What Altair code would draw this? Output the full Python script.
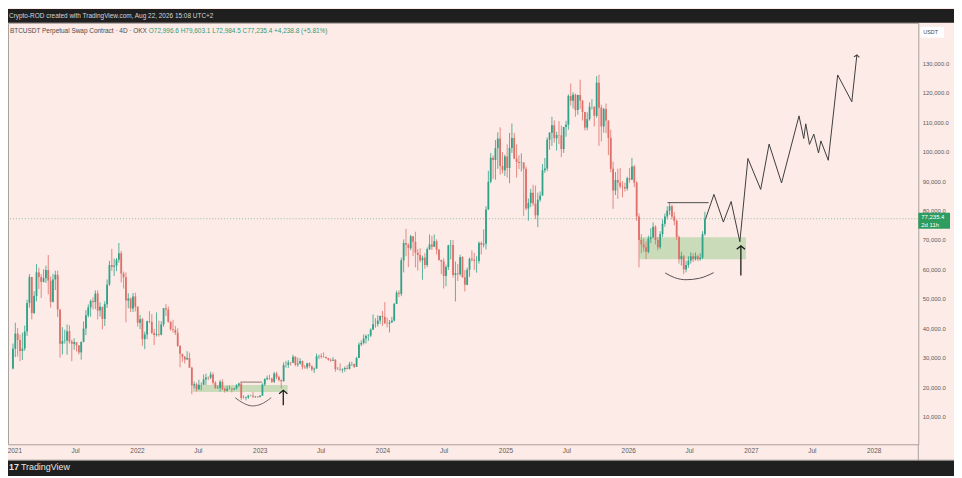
import altair as alt
import numpy as np
import pandas as pd

W, H = 918, 425
RP = 36  # right padding (price axis strip)
BG = "#fdebe7"
UP, DOWN = "#2fa287", "#df6f69"
FONT = "Liberation Sans"
AXC = "#5b5b5b"

# ---------------- weekly candles (values in thousands USDT) ----------------
first_open_k = 26.3
close_k = [33.0,
    38.2, 36.0, 32.3, 33.1, 38.9, 48.6, 57.4, 45.2, 51.0, 59.0, 57.4, 55.8, 57.0, 59.8, 56.2, 49.0, 56.6, 58.2, 46.4, 34.7, 35.7, 35.8, 39.0, 35.5, 34.7, 35.3,
    34.2, 31.8, 35.4, 39.9, 44.4, 47.1, 49.3, 48.9, 51.8, 46.0, 47.3, 43.2, 48.2, 54.9, 61.5, 60.9, 61.3, 63.3, 65.5, 58.6, 57.3, 49.4, 50.1, 46.7, 50.8, 47.3,
    41.9, 43.1, 36.3, 37.9, 42.4, 42.2, 38.4, 37.7, 38.0, 37.8, 41.3, 46.8, 46.4, 42.2, 39.7, 39.4, 38.5, 34.0, 31.3, 30.3, 29.4, 29.9, 26.6, 20.6, 21.0, 19.3,
    20.8, 20.8, 22.6, 23.3, 23.2, 24.3, 21.5, 19.6, 19.8, 21.8, 19.4, 18.8, 19.4, 19.4, 19.2, 19.6, 20.6, 21.2, 16.3, 16.3, 16.5, 17.1, 17.1, 16.7, 16.8, 16.6,
    17.1, 20.9, 22.7, 23.1, 22.9, 21.8, 24.6, 23.4, 22.4, 22.0, 27.5, 27.5, 28.4, 28.3, 30.3, 27.6, 28.0, 28.9, 26.9, 26.7, 28.1, 27.1, 26.0, 26.3, 30.5, 30.6,
    30.3, 30.2, 29.9, 29.3, 29.0, 29.3, 26.1, 26.1, 25.9, 26.1, 26.5, 26.2, 27.9, 27.9, 26.9, 29.9, 34.5, 35.0, 36.5, 37.4, 37.5, 39.5, 41.4, 41.4, 42.6, 44.2,
    43.9, 41.7, 41.6, 42.0, 42.6, 48.3, 52.1, 51.7, 63.1, 69.0, 68.4, 67.2, 71.3, 69.4, 65.7, 64.9, 63.1, 64.0, 61.5, 66.9, 68.5, 67.7, 69.6, 66.7, 63.2, 62.7,
    57.8, 60.8, 68.2, 68.3, 58.1, 58.7, 58.4, 64.2, 57.3, 54.8, 59.9, 63.6, 63.3, 62.9, 62.9, 69.0, 68.4, 68.7, 80.4, 89.8, 98.0, 97.2, 101.2, 104.5, 95.2, 93.7, 98.4,
    94.5, 101.3, 104.7, 97.7, 96.5, 96.2, 96.3, 94.2, 80.7, 82.6, 86.1, 82.4, 78.4, 83.7, 85.1, 93.7, 94.3, 104.1, 106.5, 109.0, 104.6, 105.7, 105.6, 100.9, 108.4, 109.2,
    119.0, 117.3, 119.4, 114.2, 119.3, 117.4, 113.5, 108.2, 111.1, 115.3, 115.3, 112.2, 123.5, 115.0, 108.6, 114.5, 110.6, 104.7, 94.2, 86.8, 90.4, 89.5, 88.2, 88.0, 87.5, 91.0,
    90.5, 95.0, 89.5, 78.0, 70.0, 68.5, 67.5, 66.0, 70.5, 71.0, 74.5, 70.0, 67.5, 72.0, 75.5, 78.0, 80.0, 81.5, 78.0, 76.5, 71.0, 63.5, 64.5, 60.0, 61.5, 63.0,
    64.5, 63.5, 64.5, 63.5, 64.0, 72.0, 77.2]
high_k = [34.8,
    41.9, 40.1, 37.8, 38.5, 40.9, 49.7, 58.4, 57.5, 52.6, 61.8, 60.6, 58.4, 60.0, 61.3, 64.9, 57.6, 58.5, 59.6, 59.6, 46.4, 40.4, 39.5, 41.3, 41.0, 36.1, 36.6,
    35.1, 34.0, 35.4, 42.3, 46.2, 48.1, 49.8, 50.5, 52.9, 52.9, 48.8, 47.3, 49.2, 56.6, 62.9, 67.0, 63.7, 63.9, 69.0, 66.3, 59.3, 59.0, 51.9, 50.5, 52.0, 52.1,
    47.5, 44.5, 43.5, 38.9, 42.6, 45.8, 44.8, 39.8, 45.4, 42.6, 42.4, 46.9, 48.2, 47.4, 42.4, 42.9, 40.8, 40.0, 34.3, 31.0, 30.6, 32.2, 31.7, 26.9, 21.9, 21.5,
    22.5, 21.6, 24.3, 24.6, 23.6, 25.2, 25.0, 22.0, 20.6, 22.4, 22.7, 19.9, 20.4, 20.5, 19.9, 19.7, 21.0, 21.5, 21.5, 17.2, 16.8, 17.4, 17.4, 18.4, 17.0, 16.9,
    17.3, 21.3, 23.0, 23.9, 24.2, 23.2, 25.2, 25.2, 23.9, 22.6, 28.4, 28.9, 29.2, 28.6, 31.0, 30.5, 30.0, 29.8, 29.0, 27.5, 28.3, 28.4, 27.4, 26.7, 31.4, 31.0,
    31.5, 31.8, 30.4, 29.6, 29.7, 30.2, 29.5, 26.8, 28.1, 26.4, 27.0, 27.5, 28.6, 28.6, 27.9, 30.3, 35.2, 35.9, 37.9, 37.9, 38.0, 40.0, 44.7, 43.4, 44.4, 44.3,
    45.9, 48.9, 43.6, 42.8, 43.9, 48.6, 52.8, 52.9, 64.0, 70.2, 73.8, 68.9, 71.8, 71.3, 72.8, 66.9, 67.2, 64.7, 65.5, 67.5, 71.9, 71.4, 71.9, 70.2, 67.0, 63.3,
    63.8, 61.6, 68.4, 70.0, 70.0, 62.7, 61.8, 65.0, 64.5, 59.8, 60.6, 64.1, 66.5, 65.6, 64.5, 69.5, 69.5, 73.6, 81.5, 93.5, 99.6, 98.8, 104.0, 106.6, 108.3, 99.9, 99.0,
    102.5, 106.4, 109.6, 106.4, 102.5, 98.8, 99.5, 96.5, 95.0, 84.1, 87.4, 88.8, 88.5, 86.1, 86.5, 95.8, 97.9, 104.9, 106.7, 111.9, 110.7, 106.8, 110.4, 108.9, 108.5, 110.5,
    119.5, 123.2, 120.2, 119.8, 119.4, 124.5, 117.6, 113.6, 113.4, 116.8, 117.9, 115.4, 125.7, 126.2, 116.0, 115.0, 116.4, 110.7, 107.5, 96.6, 93.1, 94.2, 94.5, 90.0, 89.5, 91.5,
    94.5, 97.9, 95.5, 90.0, 79.0, 72.0, 70.5, 69.5, 71.5, 74.0, 76.0, 75.0, 71.0, 73.0, 77.0, 79.0, 81.5, 82.7, 82.0, 79.5, 77.0, 71.5, 66.0, 65.0, 63.0, 64.5,
    65.8, 65.5, 65.8, 65.0, 65.5, 73.0, 79.6]
low_k = [26.0,
    30.2, 30.4, 28.8, 29.2, 32.3, 37.4, 47.0, 43.0, 44.9, 49.2, 53.3, 50.3, 55.6, 55.4, 51.5, 47.0, 48.7, 53.0, 43.8, 30.0, 31.1, 34.8, 31.0, 34.8, 28.8, 32.7,
    32.1, 31.1, 29.3, 35.2, 37.7, 43.7, 43.9, 46.4, 46.5, 43.0, 44.0, 39.6, 40.8, 46.9, 54.4, 59.5, 57.8, 59.4, 62.3, 55.6, 53.5, 42.0, 46.8, 45.5, 45.5, 45.7,
    40.6, 39.7, 34.0, 32.9, 36.3, 41.7, 38.0, 34.3, 37.2, 37.2, 37.6, 40.5, 44.2, 41.9, 39.2, 38.5, 37.7, 33.7, 26.7, 28.6, 28.0, 29.3, 26.5, 17.6, 19.6, 18.6,
    19.0, 18.9, 20.8, 20.7, 22.4, 22.7, 20.8, 19.5, 19.5, 18.5, 19.0, 18.1, 18.5, 19.2, 18.2, 18.9, 19.2, 20.1, 15.6, 16.1, 15.5, 16.0, 16.9, 16.3, 16.3, 16.3,
    16.5, 17.1, 20.4, 22.3, 22.5, 21.4, 21.4, 22.7, 21.9, 19.6, 21.9, 26.6, 26.5, 27.3, 28.2, 27.1, 26.9, 27.7, 26.0, 26.2, 26.1, 26.6, 25.4, 24.8, 26.3, 29.5,
    29.7, 30.0, 29.6, 29.0, 28.6, 28.9, 25.2, 25.8, 25.4, 24.9, 25.2, 26.0, 26.0, 27.2, 26.5, 27.0, 29.9, 33.9, 34.5, 34.8, 35.7, 37.0, 39.9, 40.2, 40.6, 41.5,
    40.8, 41.5, 40.3, 38.6, 41.8, 42.3, 48.2, 50.6, 50.9, 59.0, 64.5, 60.8, 66.5, 64.5, 60.7, 59.6, 62.4, 56.5, 60.2, 60.8, 66.6, 66.6, 67.6, 65.1, 63.0, 58.4,
    53.5, 54.3, 59.8, 63.4, 57.2, 49.1, 56.1, 57.8, 57.2, 52.5, 54.6, 57.5, 62.7, 59.8, 58.9, 62.0, 65.1, 67.5, 66.8, 80.2, 89.3, 90.8, 90.5, 94.2, 92.2, 92.6, 91.8,
    91.2, 89.3, 99.6, 97.5, 91.2, 94.1, 93.3, 78.2, 80.1, 76.6, 81.2, 81.6, 77.1, 74.4, 83.0, 85.1, 92.8, 93.4, 100.7, 102.0, 103.1, 100.4, 102.6, 98.2, 99.6, 105.1,
    107.5, 115.7, 114.7, 111.9, 112.6, 114.5, 110.6, 107.3, 107.3, 110.6, 114.4, 108.6, 111.6, 102.0, 103.5, 106.5, 106.3, 98.9, 93.0, 80.6, 85.3, 84.0, 87.5, 84.5, 86.5, 86.8,
    89.5, 90.5, 88.0, 76.5, 60.7, 65.5, 66.0, 63.5, 65.5, 69.0, 70.5, 68.5, 66.5, 67.0, 71.0, 74.5, 77.0, 78.5, 77.0, 75.0, 70.0, 62.0, 61.3, 58.4, 59.0, 60.5,
    62.0, 62.5, 63.0, 62.8, 63.0, 63.5, 71.5]

# ---------------- projection path ----------------
proj_dates = ["2026-08-19", "2026-09-13", "2026-10-11", "2026-11-03", "2026-11-29", "2026-12-23",
              "2027-01-30", "2027-02-24", "2027-04-02", "2027-05-24", "2027-06-07", "2027-06-13",
              "2027-06-24", "2027-07-07", "2027-07-21", "2027-07-28", "2027-08-19", "2027-09-16",
              "2027-10-28", "2027-11-12"]
proj_k = [77.2, 85.5, 76.1, 83.1, 69.4, 97.7, 87.2, 102.6, 89.4, 112.2, 104.5, 109.5,
          102.5, 106.0, 99.6, 103.7, 97.1, 126.1, 117.0, 132.9]

# ---------------- annotations ----------------
zone_start = ["2022-06-16", "2026-02-03"]
zone_end = ["2023-03-25", "2026-12-17"]
zone_lo_k = [18.3, 63.5]
zone_hi_k = [20.7, 70.9]

res_start = ["2022-11-04", "2026-04-28"]
res_end = ["2023-01-08", "2026-08-28"]
res_k = [21.7, 82.7]
res_colors = ["#8d716b", "#4d4d4d"]

arc1_dates = ["2022-10-20", "2022-11-14", "2022-12-10", "2023-01-05", "2023-02-04"]
arc1_k = [16.4, 14.5, 13.6, 14.2, 16.4]
arc2_dates = ["2026-04-21", "2026-05-19", "2026-06-22", "2026-08-01", "2026-09-12"]
arc2_k = [58.8, 57.2, 56.5, 57.0, 58.9]

arrow_dates = ["2023-03-12", "2026-12-02"]
arrow_lo_k = [13.8, 57.9]
arrow_hi_k = [18.9, 68.0]

last_price = 77235.4
header_text = "Crypto-ROD created with TradingView.com, Aug 22, 2026 15:08 UTC+2"
symbol_text = "BTCUSDT Perpetual Swap Contract · 4D · OKX"
ohlc_text = "O72,996.6  H79,603.1  L72,984.5  C77,235.4  +4,238.8 (+5.81%)"
price_tag = ["77,235.4", "2d 11h"]
y_ticks = [10000, 20000, 30000, 40000, 50000, 60000, 70000, 80000, 90000, 100000, 110000, 120000, 130000]

# ---------------- tables ----------------
n = min(len(close_k), len(high_k), len(low_k))
weeks = pd.date_range("2020-12-28", periods=n, freq="7D")
c = np.array(close_k[:n]) * 1000
o = np.array([first_open_k] + close_k[:n - 1]) * 1000
h = np.maximum.reduce([np.array(high_k[:n]) * 1000, o, c])
l = np.minimum.reduce([np.array(low_k[:n]) * 1000, o, c])
candles = pd.DataFrame({"t": weeks, "o": o, "h": h, "l": l, "c": c})
candles["dir"] = np.where(candles["c"] >= candles["o"], "up", "down")

proj = pd.DataFrame({"d": pd.to_datetime(proj_dates), "p": np.array(proj_k) * 1000, "i": range(len(proj_k))})
proj_end = proj.tail(1)

xs = alt.Scale(domain=[alt.DateTime(year=2020, month=12, date=28), alt.DateTime(year=2028, month=4, date=28)])
ys = alt.Scale(domain=[560, 143820], nice=False, zero=False)

x_vals = [alt.DateTime(year=yy, month=mm, date=1) for yy in range(2021, 2029) for mm in (1, 7) if not (yy == 2028 and mm == 7)]
x_axis = alt.Axis(values=x_vals, labelExpr="month(datum.value) == 0 ? timeFormat(datum.value, '%Y') : 'Jul'",
                  title=None, grid=False, ticks=False, domain=False, labelFlush=False, labelOverlap=False,
                  labelPadding=3, labelFontSize=6.5, labelColor=AXC, labelFont=FONT)
y_axis = alt.Axis(orient="right", values=y_ticks, format=",.1f", title=None, grid=False, ticks=False,
                  domain=False, labelAlign="left", labelBaseline="middle", labelPadding=4,
                  labelFontSize=6, labelColor=AXC, labelFont=FONT)

def X(f):
    return alt.X(f, scale=xs, axis=x_axis, title=None)

def Y(f):
    return alt.Y(f, scale=ys, axis=y_axis, title=None)

one = pd.DataFrame({"a": [0]})
layers = []

# green zones
zones = pd.DataFrame({"s": pd.to_datetime(zone_start), "e": pd.to_datetime(zone_end),
                      "lo": np.array(zone_lo_k) * 1000, "hi": np.array(zone_hi_k) * 1000})
layers.append(alt.Chart(zones).mark_rect(color="#a9d29b", opacity=0.62).encode(
    x=X("s:T"), x2="e:T", y=Y("lo:Q"), y2="hi:Q"))

# last price dotted line
layers.append(alt.Chart(pd.DataFrame({"p": [last_price]})).mark_rule(
    color="#7fa98f", strokeDash=[1, 2], strokeWidth=0.8).encode(y=Y("p:Q")))

# candles
col = alt.Color("dir:N", scale=alt.Scale(domain=["up", "down"], range=[UP, DOWN]), legend=None)
layers.append(alt.Chart(candles).mark_rule(strokeWidth=0.8).encode(
    x=X("t:T"), y=Y("l:Q"), y2="h:Q", color=col))
layers.append(alt.Chart(candles).mark_bar(size=1.8).encode(
    x=X("t:T"), y=Y("o:Q"), y2="c:Q", color=col))

# resistance lines
for s, e, p, cc in zip(res_start, res_end, res_k, res_colors):
    df = pd.DataFrame({"s": [pd.Timestamp(s)], "e": [pd.Timestamp(e)], "p": [p * 1000]})
    layers.append(alt.Chart(df).mark_rule(color=cc, strokeWidth=1).encode(x=X("s:T"), x2="e:T", y=Y("p:Q")))

# arcs
for dts, vals, cc in [(arc1_dates, arc1_k, "#6b6463"), (arc2_dates, arc2_k, "#555050")]:
    df = pd.DataFrame({"d": pd.to_datetime(dts), "p": np.array(vals) * 1000, "i": range(len(vals))})
    layers.append(alt.Chart(df).mark_line(color=cc, strokeWidth=1, interpolate="monotone").encode(
        x=X("d:T"), y=Y("p:Q"), order="i:Q"))

# up arrows
arrows = pd.DataFrame({"d": pd.to_datetime(arrow_dates), "lo": np.array(arrow_lo_k) * 1000,
                       "hi": np.array(arrow_hi_k) * 1000})
layers.append(alt.Chart(arrows).mark_rule(color="#1c1c1c", strokeWidth=1.3).encode(
    x=X("d:T"), y=Y("lo:Q"), y2="hi:Q"))
chevron = "M -1 0.8 L 0 0 L 1 0.8"
layers.append(alt.Chart(arrows).mark_point(shape=chevron, size=70, filled=False, color="#1c1c1c",
                                           strokeWidth=1.3, opacity=1).encode(x=X("d:T"), y=Y("hi:Q")))

# projection path
layers.append(alt.Chart(proj).mark_line(color="#3d3d3d", strokeWidth=1).encode(
    x=X("d:T"), y=Y("p:Q"), order="i:Q"))
layers.append(alt.Chart(proj_end).mark_point(shape=chevron, size=30, angle=6, filled=False, color="#3d3d3d",
                                             strokeWidth=1, opacity=1).encode(x=X("d:T"), y=Y("p:Q")))

# ---------------- chrome: header, footer, labels ----------------
layers.append(alt.Chart(one).mark_rect(color="#1f1f1f").encode(
    x=alt.value(0), x2=alt.value(W + RP + 4), y=alt.value(-14), y2=alt.value(0)))
layers.append(alt.Chart(pd.DataFrame({"t": [header_text]})).mark_text(
    align="left", baseline="middle", fontSize=6.5, font=FONT, color="#d6d6d6").encode(
    x=alt.value(1), y=alt.value(-6.5), text="t:N"))
layers.append(alt.Chart(pd.DataFrame({"t": [symbol_text]})).mark_text(
    align="left", baseline="middle", fontSize=6.5, font=FONT, color="#4a4a4a").encode(
    x=alt.value(2), y=alt.value(8), text="t:N"))
layers.append(alt.Chart(pd.DataFrame({"t": [ohlc_text]})).mark_text(
    align="left", baseline="middle", fontSize=6.5, font=FONT, color="#2f9a72").encode(
    x=alt.value(142), y=alt.value(8), text="t:N"))

# right axis: USDT tag
layers.append(alt.Chart(one).mark_rect(color="#ffffff").encode(
    x=alt.value(W + 2), x2=alt.value(W + 26), y=alt.value(4), y2=alt.value(15)))
layers.append(alt.Chart(pd.DataFrame({"t": ["USDT"]})).mark_text(
    align="left", baseline="middle", fontSize=5.5, font=FONT, color="#444444").encode(
    x=alt.value(W + 5), y=alt.value(9.5), text="t:N"))

# right axis: last-price tag
tagbox = "M -1 -0.5 L 1 -0.5 L 1 0.5 L -1 0.5 Z"
layers.append(alt.Chart(pd.DataFrame({"p": [last_price]})).mark_point(
    shape=tagbox, size=1024, filled=True, color="#2e9c5f", opacity=1, strokeWidth=0, yOffset=2).encode(
    x=alt.value(W + 16), y=Y("p:Q")))
for txt, dy in zip(price_tag, [-1.5, 6]):
    layers.append(alt.Chart(pd.DataFrame({"p": [last_price], "t": [txt]})).mark_text(
        align="left", baseline="middle", fontSize=6, font=FONT, color="#ffffff", dy=dy).encode(
        x=alt.value(W + 3), y=Y("p:Q"), text="t:N"))

# separators and footer
layers.append(alt.Chart(one).mark_rule(color="#a8a09d", strokeWidth=1).encode(
    x=alt.value(W), y=alt.value(H), y2=alt.value(H + 16)))
layers.append(alt.Chart(one).mark_rect(color="#1f1f1f").encode(
    x=alt.value(0), x2=alt.value(W + RP + 4), y=alt.value(H + 16), y2=alt.value(H + 34)))
layers.append(alt.Chart(one).mark_rule(color="#a8a09d", strokeWidth=1).encode(
    x=alt.value(0), x2=alt.value(W + RP + 4), y=alt.value(H + 16)))
layers.append(alt.Chart(pd.DataFrame({"t": ["17"]})).mark_text(
    align="left", baseline="top", fontSize=9, font=FONT, fontWeight="bold", color="#e6e6e6").encode(
    x=alt.value(1), y=alt.value(H + 19), text="t:N"))
layers.append(alt.Chart(pd.DataFrame({"t": ["TradingView"]})).mark_text(
    align="left", baseline="top", fontSize=9, font=FONT, color="#e6e6e6").encode(
    x=alt.value(13), y=alt.value(H + 19), text="t:N"))

chart = alt.layer(*layers).properties(
    width=W, height=H,
    padding={"left": 0, "top": 13, "right": RP, "bottom": 30},
    autosize=alt.AutoSizeParams(type="none"),
    background=BG,
).configure_view(fill=BG, stroke="#a8a09d", strokeWidth=1)

chart.save("out.html", embed_options={"renderer": "svg", "actions": False})
